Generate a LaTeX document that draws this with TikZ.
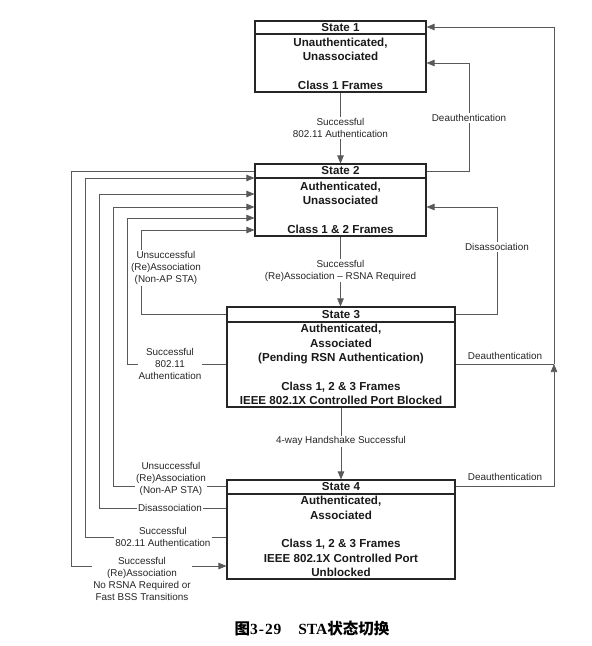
\documentclass[tikz,border=0pt]{standalone}
\usepackage{fontspec}
\setmainfont{Liberation Sans}
\newfontfamily\cjk{Noto Sans CJK SC}
\newfontfamily\capserif{Liberation Serif}
\usetikzlibrary{arrows.meta}
\begin{document}
\begin{tikzpicture}[x=1pt,y=-1pt,
  sbox/.style={draw=black!85, line width=1.1pt, inner sep=0pt, fill=none},
  sline/.style={draw=black!85, line width=1.1pt},
  shead/.style={font=\fontsize{11.6}{13}\selectfont\bfseries, inner sep=0pt, text=black!90},
  sbody/.style={font=\fontsize{11.6}{14.3}\selectfont\bfseries, inner sep=0pt, align=center, text=black!90},
  conn/.style={draw=black!65, line width=0.7pt},
  arr/.style={conn, -{Triangle[length=8pt,width=6.5pt]}},
  lbl/.style={font=\fontsize{9.9}{12}\selectfont, fill=white, inner sep=1pt, align=center, text=black!85}]
\useasboundingbox (0,0) rectangle (592,646);

% ---- State boxes ----
\node[sbox, minimum width=171pt, minimum height=71pt] (s1) at (340.5,56.5) {};
\draw[sline] (s1.west |- 0,34) -- (s1.east |- 0,34);
\node[shead] (h1) at (340.5,27.5) {State 1};
\node[sbody] (b1) at (340.5,63.5) {Unauthenticated,\\Unassociated\\~\\Class 1 Frames};

\node[sbox, minimum width=171pt, minimum height=72pt] (s2) at (340.5,200) {};
\draw[sline] (s2.west |- 0,178) -- (s2.east |- 0,178);
\node[shead] (h2) at (340.5,171) {State 2};
\node[sbody] (b2) at (340.5,207.5) {Authenticated,\\Unassociated\\~\\Class 1 \& 2 Frames};

\node[sbox, minimum width=228pt, minimum height=100pt] (s3) at (341,357) {};
\draw[sline] (s3.west |- 0,322) -- (s3.east |- 0,322);
\node[shead] (h3) at (341,314.5) {State 3};
\node[sbody] (b3) at (341,364.5) {Authenticated,\\Associated\\(Pending RSN Authentication)\\~\\Class 1, 2 \& 3 Frames\\IEEE 802.1X Controlled Port Blocked};

\node[sbox, minimum width=228pt, minimum height=99pt] (s4) at (341,529.5) {};
\draw[sline] (s4.west |- 0,494) -- (s4.east |- 0,494);
\node[shead] (h4) at (341,487) {State 4};
\node[sbody] (b4) at (341,536.5) {Authenticated,\\Associated\\~\\Class 1, 2 \& 3 Frames\\IEEE 802.1X Controlled Port\\Unblocked};

% ---- Vertical transitions ----
\draw[arr] (s1.south) -- (s2.north) node[lbl, midway] (t12) {Successful\\802.11 Authentication};
\draw[arr] (s2.south) -- (s2.south |- s3.north) node[lbl, pos=0.49] (t23) {Successful\\(Re)Association -- RSNA Required};
\draw[arr] (s3.south) -- (s4.north) node[lbl, pos=0.47] (t34) {4-way Handshake Successful};

% ---- Right side ----
\draw[arr] (s2.east |- 0,171) -- (469,171) -- (469,63) -- (s1.east |- 0,63);
\node[lbl] (r1) at (469,118) {Deauthentication};

\draw[arr] (s3.east |- 0,314) -- (497,314) -- (497,207) -- (s2.east |- 0,207);
\node[lbl] (r2) at (497,247) {Disassociation};

\coordinate (j) at (554,364);
\draw[conn] (s3.east |- 0,364) -- (j);
\node[lbl, fill=none] (r3) at (505,356) {Deauthentication};
\draw[arr] (s4.east |- 0,486) -- (554,486) -- (j);
\node[lbl, fill=none] (r4) at (505,477) {Deauthentication};
\draw[arr] (j) -- (554,27) -- (s1.east |- 0,27);

% ---- Left side ----
\draw[arr] (s2.west |- 0,171) -- (71,171) -- (71,566) -- (s4.west |- 0,566);
\node[lbl] (l1) at (142,579) {Successful\\(Re)Association\\No RSNA Required or\\Fast BSS Transitions};

\draw[arr] (s4.west |- 0,537) -- (85,537) -- (85,178) -- (s2.west |- 0,178);
\node[lbl] (l2) at (163,537) {Successful\\802.11 Authentication};

\draw[arr] (s4.west |- 0,508) -- (99,508) -- (99,194) -- (s2.west |- 0,194);
\node[lbl] (l3) at (170,508) {Disassociation};

\draw[arr] (s4.west |- 0,486) -- (113,486) -- (113,207) -- (s2.west |- 0,207);
\node[lbl] (l4) at (171,479) {Unsuccessful\\(Re)Association\\(Non-AP STA)};

\draw[arr] (s3.west |- 0,364) -- (127,364) -- (127,218) -- (s2.west |- 0,218);
\node[lbl] (l5) at (170,364) {Successful\\802.11\\Authentication};

\draw[arr] (s3.west |- 0,314) -- (141,314) -- (141,230) -- (s2.west |- 0,230);
\node[lbl] (l6) at (166,268) {Unsuccessful\\(Re)Association\\(Non-AP STA)};

% ---- Caption ----
\node[inner sep=0pt] (cap) at (312,629) {\fontsize{15.5}{17}\selectfont\bfseries{\cjk 图}{\capserif 3\kern1pt-\kern1pt2\kern0.8pt9\hspace{1.1em}STA}{\cjk 状态切换}};
\end{tikzpicture}
\end{document}
